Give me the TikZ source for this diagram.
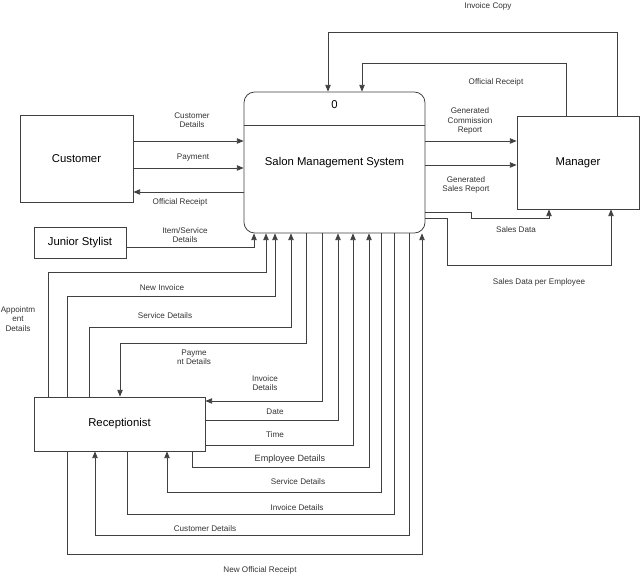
\documentclass[tikz,border=0pt]{standalone}
\usepackage{fontspec}
\setmainfont{Liberation Sans}
\usetikzlibrary{arrows.meta}
\begin{document}
\begin{tikzpicture}[x=0.75pt,y=-0.75pt,
  ln/.style={draw=black!75,line width=0.6pt},
  ar/.style={ln,-{Triangle[length=5pt,width=4pt]}},
  box/.style={draw=black!75,line width=0.6pt,rectangle,inner sep=0pt,font=\fontsize{8.5}{9}\selectfont},
  lb/.style={font=\fontsize{6.1}{7}\selectfont,align=center,text=black!80,inner sep=1pt}]
\useasboundingbox (0,0) rectangle (640,577);
\node[box,rounded corners=8pt,minimum width=181*0.75pt,minimum height=141*0.75pt] (sms) at (334.5,162.5) {};
\draw[ln] (244,125) -- (425,125);
\node[font=\fontsize{8.5}{9}\selectfont] (zero) at (334.5,105) {0};
\node[font=\fontsize{8.5}{9}\selectfont] (smst) at (334.5,163) {Salon Management System};
\node[box,minimum width=122*0.75pt,minimum height=93*0.75pt] (man) at (578,162.5) {Manager};
\node[box,minimum width=113*0.75pt,minimum height=87*0.75pt] (cus) at (76.5,158.5) {Customer};
\node[box,minimum width=92*0.75pt,minimum height=31*0.75pt] (js) at (80,242.5) {Junior Stylist};
\node[box,minimum width=171*0.75pt,minimum height=54*0.75pt] (rec) at (119.5,424) {Receptionist};
% customer
\draw[ar] (cus.east |- 0,141) -- (sms.west |- 0,141);
\draw[ar] (cus.east |- 0,168) -- (sms.west |- 0,168);
\draw[ar] (sms.west |- 0,192) -- (cus.east |- 0,192);
\node[lb] (l1) at (192,120) {Customer\\Details};
\node[lb] (l2) at (193,158) {Payment};
\node[lb] (l3) at (180,202) {Official Receipt};
% manager
\draw[ar] (sms.east |- 0,141) -- (man.west |- 0,141);
\draw[ar] (sms.east |- 0,165) -- (man.west |- 0,165);
\draw[ar] (617,0 |- man.north) -- (617,32) -- (328,32) -- (328,0 |- sms.north);
\draw[ar] (566,0 |- man.north) -- (566,63) -- (362,63) -- (362,0 |- sms.north);
\draw[ar] (sms.east |- 0,212) -- (471,212) -- (471,218) -- (549,218) -- (549,0 |- man.south);
\draw[ar] (sms.east |- 0,218) -- (447,218) -- (447,265) -- (611,265) -- (611,0 |- man.south);
\node[lb] (l4) at (470,121) {Generated\\Commission\\Report};
\node[lb] (l5) at (466,185) {Generated\\Sales Report};
\node[lb] (l6) at (496,82) {Official Receipt};
\node[lb] (l7) at (488,6) {Invoice Copy};
\node[lb] (l8) at (516,230) {Sales Data};
\node[lb] (l9) at (539,282) {Sales Data per Employee};
% junior stylist
\draw[ar] (js.east |- 0,247) -- (254,247) -- (254,0 |- sms.south);
\node[lb] (l10) at (185,235) {Item/Service\\Details};
% receptionist up
\draw[ar] (48,0 |- rec.north) -- (48,272) -- (266,272) -- (266,0 |- sms.south);
\node[lb] (l11) at (18,319) {Appointm\\ent\\Details};
\draw[ar] (67,0 |- rec.north) -- (67,296) -- (275,296) -- (275,0 |- sms.south);
\node[lb] (l12) at (162,288) {New Invoice};
\draw[ar] (89,0 |- rec.north) -- (89,327) -- (291,327) -- (291,0 |- sms.south);
\node[lb] (l13) at (165,316) {Service Details};
\draw[ar] (306,0 |- sms.south) -- (306,343) -- (120,343) -- (120,0 |- rec.north);
\node[lb] (l14) at (194,357) {Payme\\nt Details};
\draw[ar] (322,0 |- sms.south) -- (322,401) -- (rec.east |- 0,401);
\node[lb] (l15) at (265,383) {Invoice\\Details};
\draw[ar] (rec.east |- 0,420) -- (338,420) -- (338,0 |- sms.south);
\node[lb] (l16) at (275,412) {Date};
\draw[ar] (rec.east |- 0,445) -- (353,445) -- (353,0 |- sms.south);
\node[lb] (l17) at (275,435) {Time};
\draw[ar] (192,0 |- rec.south) -- (192,467) -- (369,467) -- (369,0 |- sms.south);
\node[lb,font=\fontsize{6.8}{7.5}\selectfont] (l18) at (290,459) {Employee Details};
\draw[ar] (381,0 |- sms.south) -- (381,492) -- (167,492) -- (167,0 |- rec.south);
\node[lb] (l19) at (298,482) {Service Details};
\draw[ln] (127,0 |- rec.south) -- (127,514) -- (394,514) -- (394,0 |- sms.south);
\node[lb] (l20) at (297,508) {Invoice Details};
\draw[ar] (409,0 |- sms.south) -- (409,535) -- (95,535) -- (95,0 |- rec.south);
\node[lb] (l21) at (205,529) {Customer Details};
\draw[ar] (67,0 |- rec.south) -- (67,554) -- (422,554) -- (422,0 |- sms.south);
\node[lb] (l22) at (260,570) {New Official Receipt};
\end{tikzpicture}
\end{document}
